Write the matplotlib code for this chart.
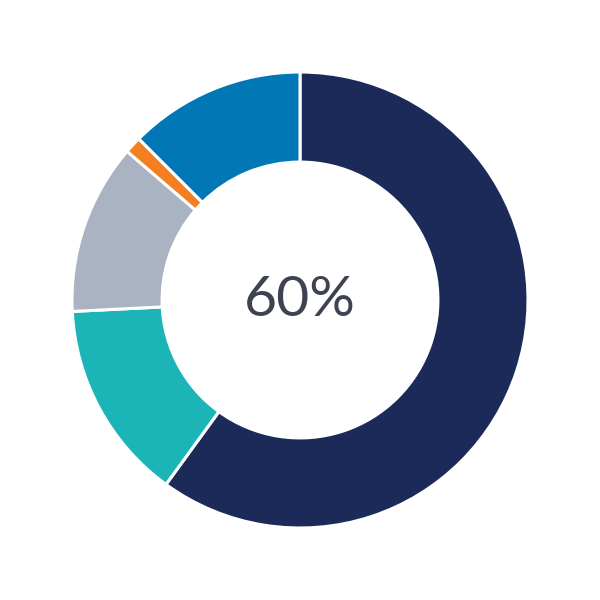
import matplotlib.pyplot as plt

labels = ['A', 'B', 'C', 'D', 'E']
values = [60, 14.2, 12.1, 1.2, 12.5]
colors = ['#1c2a5a', '#1bb5b7', '#a9b3c1', '#f47f20', '#0277b5']
center_text = '60%'

fig = plt.figure(figsize=(6, 6), dpi=100)
ax = fig.add_axes([0, 0, 1, 1])
ax.pie(values, colors=colors, startangle=90, counterclock=False,
       radius=1, wedgeprops=dict(width=0.395, edgecolor='white', linewidth=2.2))
ax.text(0, 0, center_text, ha='center', va='center', fontsize=41,
        family='Lato', fontweight='normal', color='#3d4350')
lim = 300 / 228
ax.set_xlim(-lim, lim)
ax.set_ylim(-lim, lim)
ax.set_aspect('equal')
ax.axis('off')
fig.savefig('out.png', dpi=100, facecolor='white')
